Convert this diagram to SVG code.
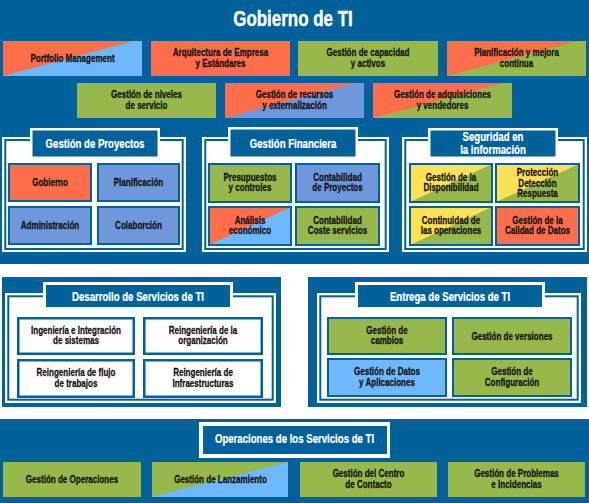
<svg xmlns="http://www.w3.org/2000/svg" width="589" height="503" viewBox="0 0 589 503">
<style>
.bg{fill:#00619b}
.o{fill:#ff6e4b}
.g{fill:#97b94c}
.lb{fill:#6fb7ff}
.pb{fill:#6f97dc}
.y{fill:#ffe155}
.w{fill:#fff}
.bd{fill:none;stroke:#00619b;stroke-width:2}
.wc{fill:#fff;stroke:#00619b;stroke-width:2.5}
.frame{fill:none;stroke:#00619b;stroke-width:2}
text{font-family:"Liberation Sans",Arial,sans-serif;font-weight:bold;text-anchor:middle}
.t{font-size:10.3px;fill:#111;stroke:#111;stroke-width:.25}
.h{font-size:12.5px;fill:#fff;stroke:#fff;stroke-width:.25}
.title{font-size:22px;fill:#fff;stroke:#fff;stroke-width:.4}
</style>
<rect x="0" y="0" width="589" height="503" fill="#fff"/>
<rect class="bg" x="0" y="0" width="589" height="264"/>
<rect class="bg" x="0" y="419" width="589" height="84"/>
<text class="title" transform="translate(293,26) scale(.77,1)">Gobierno de TI</text>

<g id="portfolio">
<rect class="o" x="3" y="41" width="139" height="35"/>
<polygon class="lb" points="3,76 134,41 142,41 142,76"/>
<text class="t" transform="translate(72.5,58.5) scale(.78,1)"><tspan x="0" y="3.5">Portfolio Management</tspan></text>
</g>
<g id="arquitectura">
<rect class="o" x="151" y="41" width="139" height="35"/>
<text class="t" transform="translate(220.5,58.5) scale(.78,1)"><tspan x="0" y="-2.5">Arquitectura de Empresa</tspan><tspan x="0" y="8">y Estándares</tspan></text>
</g>
<g id="capacidad">
<rect class="g" x="298" y="41" width="140" height="35"/>
<text class="t" transform="translate(368,58.5) scale(.78,1)"><tspan x="0" y="-2.5">Gestión de capacidad</tspan><tspan x="0" y="8">y activos</tspan></text>
</g>
<g id="planificacion-mejora">
<rect class="o" x="447" y="41" width="139" height="35"/>
<polygon class="g" points="447,76 578,41 586,41 586,76"/>
<text class="t" transform="translate(516.5,58.5) scale(.78,1)"><tspan x="0" y="-2.5">Planificación y mejora</tspan><tspan x="0" y="8">continua</tspan></text>
</g>
<g id="niveles">
<rect class="g" x="77" y="83" width="139" height="35"/>
<text class="t" transform="translate(146.5,100.5) scale(.78,1)"><tspan x="0" y="-2.5">Gestión de niveles</tspan><tspan x="0" y="8">de servicio</tspan></text>
</g>
<g id="recursos">
<rect class="o" x="225" y="83" width="139" height="35"/>
<polygon class="pb" points="225,118 356,83 364,83 364,118"/>
<text class="t" transform="translate(294.5,100.5) scale(.78,1)"><tspan x="0" y="-2.5">Gestión de recursos</tspan><tspan x="0" y="8">y externalización</tspan></text>
</g>
<g id="adquisiciones">
<rect class="o" x="373" y="83" width="139" height="35"/>
<polygon class="g" points="373,118 504,83 512,83 512,118"/>
<text class="t" transform="translate(442.5,100.5) scale(.78,1)"><tspan x="0" y="-2.5">Gestión de adquisiciones</tspan><tspan x="0" y="8">y vendedores</tspan></text>
</g>

<g id="gestion-proyectos">
<rect class="w" x="2" y="137" width="184" height="115"/>
<rect class="frame" x="5.3" y="140" width="177.4" height="109"/>
<rect class="w" x="30" y="128" width="130" height="31"/>
<rect class="bg" x="32.5" y="130.5" width="125" height="26"/>
<text class="h" transform="translate(95,147.5) scale(.77,1)">Gestión de Proyectos</text>
<g id="gobierno"><rect class="o" x="9" y="164" width="82" height="37"/><rect class="bd" x="9" y="164" width="82" height="37"/>
<text class="t" transform="translate(50,182.5) scale(.78,1)"><tspan x="0" y="3.5">Gobierno</tspan></text></g>
<g id="planificacion"><rect class="pb" x="98" y="164" width="81" height="37"/><rect class="bd" x="98" y="164" width="81" height="37"/>
<text class="t" transform="translate(138.5,182.5) scale(.78,1)"><tspan x="0" y="3.5">Planificación</tspan></text></g>
<g id="administracion"><rect class="pb" x="9" y="207" width="82" height="37"/><rect class="bd" x="9" y="207" width="82" height="37"/>
<text class="t" transform="translate(50,225.5) scale(.78,1)"><tspan x="0" y="3.5">Administración</tspan></text></g>
<g id="colaboracion"><rect class="pb" x="98" y="207" width="81" height="37"/><rect class="bd" x="98" y="207" width="81" height="37"/>
<text class="t" transform="translate(138.5,225.5) scale(.78,1)"><tspan x="0" y="3.5">Colaborción</tspan></text></g>
</g>

<g id="gestion-financiera">
<rect class="w" x="202" y="137" width="187" height="115"/>
<rect class="frame" x="205.3" y="140" width="180.4" height="109"/>
<rect class="w" x="228" y="127" width="130" height="32"/>
<rect class="bg" x="230.5" y="129.5" width="125" height="27"/>
<text class="h" transform="translate(293,147.5) scale(.77,1)">Gestión Financiera</text>
<g id="presupuestos"><rect class="g" x="209" y="164" width="82" height="38"/><rect class="bd" x="209" y="164" width="82" height="38"/>
<text class="t" transform="translate(250,183) scale(.78,1)"><tspan x="0" y="-2.5">Presupuestos</tspan><tspan x="0" y="8">y controles</tspan></text></g>
<g id="contabilidad-proyectos"><rect class="pb" x="296" y="164" width="83" height="38"/><rect class="bd" x="296" y="164" width="83" height="38"/>
<text class="t" transform="translate(337.5,183) scale(.78,1)"><tspan x="0" y="-2.5">Contabilidad</tspan><tspan x="0" y="8">de Proyectos</tspan></text></g>
<g id="analisis"><rect class="o" x="209" y="207" width="82" height="38"/><polygon class="lb" points="209,245 291,207 291,245"/><rect class="bd" x="209" y="207" width="82" height="38"/>
<text class="t" transform="translate(250,226) scale(.78,1)"><tspan x="0" y="-2.5">Análisis</tspan><tspan x="0" y="8">económico</tspan></text></g>
<g id="contabilidad-coste"><rect class="g" x="296" y="207" width="83" height="38"/><rect class="bd" x="296" y="207" width="83" height="38"/>
<text class="t" transform="translate(337.5,226) scale(.78,1)"><tspan x="0" y="-2.5">Contabilidad</tspan><tspan x="0" y="8">Coste servicios</tspan></text></g>
</g>

<g id="seguridad">
<rect class="w" x="402" y="137" width="185" height="115"/>
<rect class="frame" x="405.3" y="140" width="178.4" height="109"/>
<rect class="w" x="428" y="128" width="130" height="31"/>
<rect class="bg" x="430.5" y="130.5" width="125" height="26"/>
<text class="h" transform="translate(493,143) scale(.77,1)"><tspan x="0" y="-2.5">Seguridad en</tspan><tspan x="0" y="11">la información</tspan></text>
<g id="disponibilidad"><rect class="y" x="410" y="164" width="82" height="38"/><polygon class="g" points="410,202 492,164 492,202"/><rect class="bd" x="410" y="164" width="82" height="38"/>
<text class="t" transform="translate(451,183) scale(.78,1)"><tspan x="0" y="-2.5">Gestión de la</tspan><tspan x="0" y="8">Disponibilidad</tspan></text></g>
<g id="proteccion"><rect class="y" x="496" y="164" width="83" height="38"/><polygon class="g" points="496,202 579,164 579,202"/><rect class="bd" x="496" y="164" width="83" height="38"/>
<text class="t" transform="translate(537.5,183) scale(.78,1)"><tspan x="0" y="-7">Protección</tspan><tspan x="0" y="3.5">Detección</tspan><tspan x="0" y="14">Respuesta</tspan></text></g>
<g id="continuidad"><rect class="y" x="410" y="207" width="82" height="38"/><polygon class="g" points="410,245 492,207 492,245"/><rect class="bd" x="410" y="207" width="82" height="38"/>
<text class="t" transform="translate(451,226) scale(.78,1)"><tspan x="0" y="-2.5">Continuidad de</tspan><tspan x="0" y="8">las operaciones</tspan></text></g>
<g id="calidad"><rect class="o" x="496" y="207" width="83" height="38"/><rect class="bd" x="496" y="207" width="83" height="38"/>
<text class="t" transform="translate(537.5,226) scale(.78,1)"><tspan x="0" y="-2.5">Gestión de la</tspan><tspan x="0" y="8">Calidad de Datos</tspan></text></g>
</g>

<g id="desarrollo">
<rect class="bg" x="2" y="277" width="279" height="130"/>
<rect class="w" x="5" y="293" width="271" height="110"/>
<rect class="frame" x="8.3" y="296.3" width="264.4" height="103.4"/>
<rect class="w" x="43" y="282" width="190" height="28"/>
<rect class="bg" x="46" y="285" width="184" height="22"/>
<text class="h" transform="translate(138,300.5) scale(.77,1)">Desarrollo de Servicios de TI</text>
<g id="ingenieria"><rect class="wc" x="18.25" y="318.25" width="115.5" height="35.5"/>
<text class="t" transform="translate(76,336) scale(.78,1)"><tspan x="0" y="-2.5">Ingeniería e Integración</tspan><tspan x="0" y="8">de sistemas</tspan></text></g>
<g id="reing-organizacion"><rect class="wc" x="144.25" y="318.25" width="117.5" height="35.5"/>
<text class="t" transform="translate(203,336) scale(.78,1)"><tspan x="0" y="-2.5">Reingeniería de la</tspan><tspan x="0" y="8">organización</tspan></text></g>
<g id="reing-flujo"><rect class="wc" x="18.25" y="360.25" width="115.5" height="36.5"/>
<text class="t" transform="translate(76,378.5) scale(.78,1)"><tspan x="0" y="-2.5">Reingeniería de flujo</tspan><tspan x="0" y="8">de trabajos</tspan></text></g>
<g id="reing-infra"><rect class="wc" x="144.25" y="360.25" width="117.5" height="36.5"/>
<text class="t" transform="translate(203,378.5) scale(.78,1)"><tspan x="0" y="-2.5">Reingeniería de</tspan><tspan x="0" y="8">Infraestructuras</tspan></text></g>
</g>

<g id="entrega">
<rect class="bg" x="308" y="277" width="279" height="130"/>
<rect class="w" x="317" y="293" width="264" height="110"/>
<rect class="frame" x="320.3" y="296.3" width="257.4" height="103.4"/>
<rect class="w" x="355" y="282" width="190" height="28"/>
<rect class="bg" x="358" y="285" width="184" height="22"/>
<text class="h" transform="translate(450,300.5) scale(.77,1)">Entrega de Servicios de TI</text>
<g id="cambios"><rect class="g" x="328" y="318" width="118" height="36"/><rect class="bd" x="328" y="318" width="118" height="36"/>
<text class="t" transform="translate(387,336) scale(.78,1)"><tspan x="0" y="-2.5">Gestión de</tspan><tspan x="0" y="8">cambios</tspan></text></g>
<g id="versiones"><rect class="g" x="453" y="318" width="118" height="36"/><rect class="bd" x="453" y="318" width="118" height="36"/>
<text class="t" transform="translate(512,336) scale(.78,1)"><tspan x="0" y="3.5">Gestión de versiones</tspan></text></g>
<g id="datos"><rect class="lb" x="328" y="359" width="118" height="37"/><rect class="bd" x="328" y="359" width="118" height="37"/>
<text class="t" transform="translate(387,377.5) scale(.78,1)"><tspan x="0" y="-2.5">Gestión de Datos</tspan><tspan x="0" y="8">y Aplicaciones</tspan></text></g>
<g id="configuracion"><rect class="g" x="453" y="359" width="118" height="37"/><rect class="bd" x="453" y="359" width="118" height="37"/>
<text class="t" transform="translate(512,377.5) scale(.78,1)"><tspan x="0" y="-2.5">Gestión de</tspan><tspan x="0" y="8">Configuración</tspan></text></g>
</g>

<g id="operaciones-servicios">
<rect class="w" x="199" y="422" width="191" height="36"/>
<rect class="bg" x="203" y="426" width="184" height="28"/>
<text class="h" transform="translate(294.5,443) scale(.77,1)">Operaciones de los Servicios de TI</text>
</g>
<g id="operaciones">
<rect class="g" x="3" y="462" width="138" height="35"/>
<text class="t" transform="translate(72,479.5) scale(.78,1)"><tspan x="0" y="3.5">Gestión de Operaciones</tspan></text>
</g>
<g id="lanzamiento">
<rect class="g" x="152" y="462" width="136" height="35"/>
<polygon class="lb" points="152,497 288,462 288,497"/>
<text class="t" transform="translate(220.5,479.5) scale(.78,1)"><tspan x="0" y="3.5">Gestión de Lanzamiento</tspan></text>
</g>
<g id="contacto">
<rect class="g" x="300" y="462" width="137" height="35"/>
<text class="t" transform="translate(368.5,479.5) scale(.78,1)"><tspan x="0" y="-2.5">Gestión del Centro</tspan><tspan x="0" y="8">de Contacto</tspan></text>
</g>
<g id="problemas">
<rect class="g" x="448" y="462" width="137" height="35"/>
<text class="t" transform="translate(516.5,479.5) scale(.78,1)"><tspan x="0" y="-2.5">Gestión de Problemas</tspan><tspan x="0" y="8">e Incidencias</tspan></text>
</g>
</svg>
